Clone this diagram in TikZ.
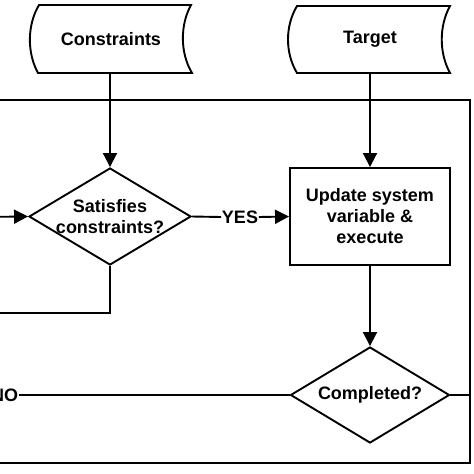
\documentclass[tikz,border=0pt]{standalone}
\usepackage{fontspec}
\setmainfont{Liberation Sans}
\usetikzlibrary{arrows.meta,shapes.geometric}
\begin{document}
\begin{tikzpicture}[x=1pt,y=-1pt,
  line width=1.9pt,
  txt/.style={font=\fontsize{18}{21}\selectfont\bfseries, align=center, inner sep=0},
  arr/.style={-{Triangle[length=14pt,width=14pt]}},
  dec/.style={draw, diamond, inner sep=0},
  procbox/.style={draw, txt, minimum width=160, minimum height=97},
]
\useasboundingbox (0,0) rectangle (474,474);
\clip (0,0) rectangle (474,474);

% outer frame
\draw (-20,100) rectangle (470,463);

% stored data shapes
\draw[fill=white] (39,5) -- (191,5) .. controls (180,25) and (180,53) .. (192,73)
  -- (38,73) .. controls (27,53) and (27,25) .. (39,5) -- cycle;
\draw[fill=white] (297,6) -- (450,6) .. controls (439,26) and (439,53) .. (450,73)
  -- (297,73) .. controls (285,53) and (285,26) .. (297,6) -- cycle;
\node[txt] (cons) at (111,39) {Constraints};
\node[txt] (targ) at (370,39) {Target};
\coordinate (consb) at (110,73);
\coordinate (targb) at (370,73);

% decisions and process
\node[dec, minimum width=162, minimum height=97] (d1) at (110,216.5) {};
\node[txt] (d1t) at (d1) {Satisfies\\constraints?};
\node[procbox] (upd) at (370,216.5) {Update system\\variable \&\\execute};
\node[dec, minimum width=159, minimum height=96] (d2) at (370,395) {};
\node[txt] (d2t) at (d2) {Completed?};

\node[txt] (yes) at (240,217) {YES};
\node[txt, anchor=east] (no) at (19,395) {NO};

\coordinate (inl) at (-20,217);
\coordinate (loopl) at (-20,313);
\coordinate (rr) at (470,395);

% connectors
\draw[arr] (consb) -- (d1.north);
\draw[arr] (targb) -- (upd.north);
\draw[arr] (inl) -- (d1.west);
\draw (d1.east) -- (yes.west);
\draw[arr] (yes.east) -- (upd.west);
\draw[arr] (upd.south) -- (d2.north);
\draw (d1.south) |- (loopl);
\draw (d2.west) -- (no.east);
\draw (d2.east) -- (rr);
\end{tikzpicture}
\end{document}
